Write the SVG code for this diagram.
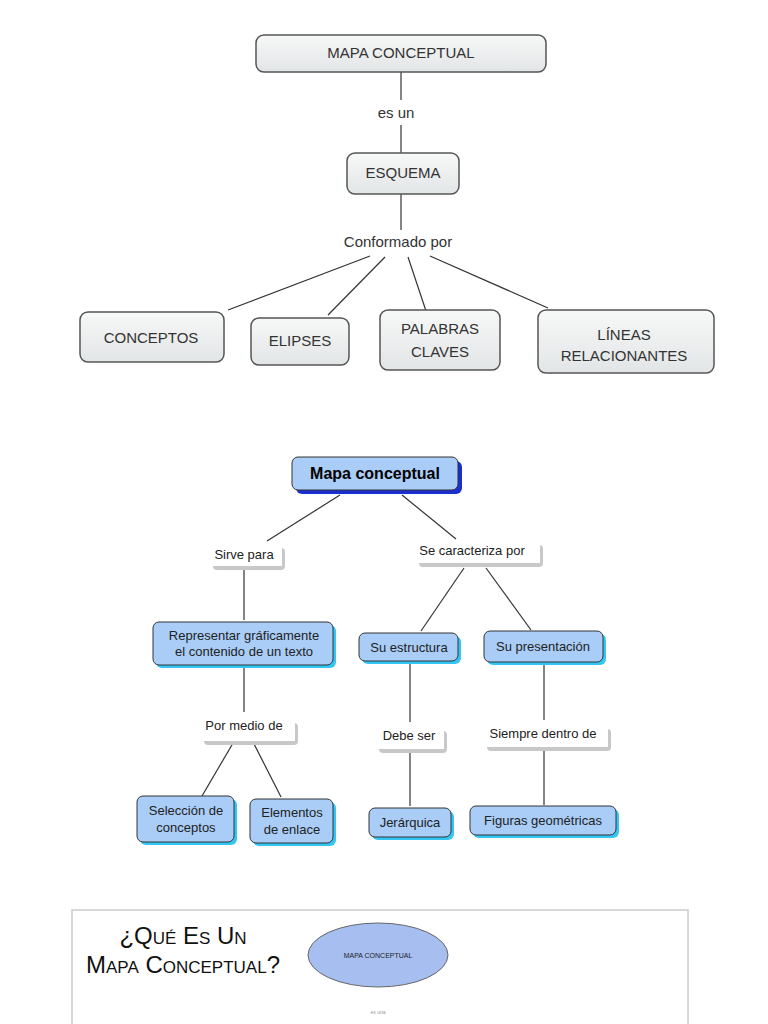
<svg xmlns="http://www.w3.org/2000/svg" width="768" height="1024" viewBox="0 0 768 1024">
<defs>
<linearGradient id="g" x1="0" y1="0" x2="0" y2="1"><stop offset="0" stop-color="#f7f8f8"/><stop offset="1" stop-color="#e2e5e6"/></linearGradient>
</defs>
<style>
text{font-family:"Liberation Sans",Arial,sans-serif;text-anchor:middle;fill:#222}
.g{fill:url(#g);stroke:#555;stroke-width:1.5}
.gt{font-size:15px;fill:#333}
.b{fill:#a9cdf7;stroke:#333;stroke-width:1}
.sh{fill:#1a2fd0}
.ls{fill:#c8c8c8}
.lb{fill:#fff}
.bt{font-size:13px}
.c line{stroke:#333;stroke-width:1.2}
</style>
<rect width="768" height="1024" fill="#fff"/>
<g class="c">
<line x1="401" y1="72" x2="401" y2="100"/><line x1="401" y1="125" x2="401" y2="153"/>
<line x1="401" y1="194" x2="401" y2="230"/>
<line x1="370" y1="256" x2="228" y2="310"/><line x1="385" y1="257" x2="328" y2="315"/>
<line x1="408" y1="257" x2="426" y2="311"/><line x1="430" y1="256" x2="548" y2="308"/>
<line x1="340" y1="495" x2="267" y2="541"/><line x1="402" y1="495" x2="456" y2="539"/>
<line x1="244" y1="570" x2="244" y2="620"/><line x1="244" y1="668" x2="244" y2="712"/>
<line x1="236" y1="738" x2="202" y2="796"/><line x1="251" y1="738" x2="281" y2="797"/>
<line x1="464" y1="568" x2="421" y2="631"/><line x1="486" y1="568" x2="531" y2="630"/>
<line x1="410" y1="664" x2="410" y2="722"/><line x1="410" y1="750" x2="410" y2="806"/>
<line x1="544" y1="665" x2="544" y2="720"/><line x1="544" y1="748" x2="544" y2="805"/>
<line x1="378" y1="987" x2="378" y2="1024" style="stroke:#888;stroke-width:0.8"/>
</g>
<g id="n1"><rect class="g" x="256" y="35" width="290" height="37" rx="8"/><text class="gt" x="401" y="58">MAPA  CONCEPTUAL</text></g>
<g id="l1"><text class="gt" x="396" y="118">es un</text></g>
<g id="n2"><rect class="g" x="347" y="153" width="112" height="41" rx="8"/><text class="gt" x="403" y="178">ESQUEMA</text></g>
<g id="l2"><text class="gt" x="398" y="247">Conformado por</text></g>
<g id="n3"><rect class="g" x="80" y="312" width="144" height="50" rx="8"/><text class="gt" x="151" y="343">CONCEPTOS</text></g>
<g id="n4"><rect class="g" x="251" y="318" width="98" height="47" rx="8"/><text class="gt" x="300" y="346">ELIPSES</text></g>
<g id="n5"><rect class="g" x="380" y="310" width="120" height="60" rx="8"/><text class="gt" x="440" y="334">PALABRAS</text><text class="gt" x="440" y="357">CLAVES</text></g>
<g id="n6"><rect class="g" x="538" y="310" width="176" height="63" rx="8"/><text class="gt" x="624" y="340">LÍNEAS</text><text class="gt" x="624" y="361">RELACIONANTES</text></g>

<g id="m1"><rect class="sh" x="296" y="461" width="166" height="33" rx="6"/><rect class="b" x="292" y="457" width="166" height="33" rx="6"/><text x="375" y="479" style="font-size:16px;font-weight:bold;fill:#000">Mapa conceptual</text></g>
<g id="m2"><rect class="ls" x="213" y="548" width="72" height="22" rx="4"/><rect class="lb" x="208" y="544" width="74" height="22"/><text class="bt" x="244" y="559">Sirve para</text></g>
<g id="m3"><rect class="ls" x="419" y="545" width="124" height="22" rx="4"/><rect class="lb" x="414" y="541" width="126" height="22"/><text class="bt" x="472" y="555">Se caracteriza por</text></g>
<g id="m4"><rect class="sh" x="156" y="625" width="180" height="43" rx="6" style="fill:#33c6f5"/><rect class="b" x="153" y="622" width="180" height="43" rx="6"/><text class="bt" x="244" y="640">Representar gráficamente</text><text class="bt" x="244" y="656">el contenido de un texto</text></g>
<g id="m5"><rect class="ls" x="204" y="723" width="94" height="22" rx="4"/><rect class="lb" x="199" y="719" width="96" height="22"/><text class="bt" x="244" y="730">Por medio de</text></g>
<g id="m6"><rect class="sh" x="140" y="799" width="97" height="46" rx="6" style="fill:#33c6f5"/><rect class="b" x="137" y="796" width="97" height="46" rx="6"/><text class="bt" x="186" y="815">Selección de</text><text class="bt" x="186" y="832">conceptos</text></g>
<g id="m7"><rect class="sh" x="253" y="802" width="83" height="44" rx="6" style="fill:#33c6f5"/><rect class="b" x="250" y="799" width="83" height="44" rx="6"/><text class="bt" x="292" y="817">Elementos</text><text class="bt" x="292" y="834">de enlace</text></g>
<g id="m8"><rect class="sh" x="362" y="636" width="99" height="28" rx="6" style="fill:#33c6f5"/><rect class="b" x="359" y="633" width="99" height="28" rx="6"/><text class="bt" x="409" y="652">Su estructura</text></g>
<g id="m9"><rect class="sh" x="487" y="634" width="119" height="31" rx="6" style="fill:#33c6f5"/><rect class="b" x="484" y="631" width="119" height="31" rx="6"/><text class="bt" x="543" y="651">Su presentación</text></g>
<g id="m10"><rect class="ls" x="379" y="731" width="68" height="22" rx="4"/><rect class="lb" x="374" y="727" width="70" height="22"/><text class="bt" x="409" y="740">Debe ser</text></g>
<g id="m11"><rect class="ls" x="487" y="729" width="124" height="22" rx="4"/><rect class="lb" x="482" y="725" width="126" height="22"/><text class="bt" x="543" y="738">Siempre dentro de</text></g>
<g id="m12"><rect class="sh" x="372" y="811" width="82" height="29" rx="6" style="fill:#33c6f5"/><rect class="b" x="369" y="808" width="82" height="29" rx="6"/><text class="bt" x="410" y="827">Jerárquica</text></g>
<g id="m13"><rect class="sh" x="473" y="809" width="146" height="29" rx="6" style="fill:#33c6f5"/><rect class="b" x="470" y="806" width="146" height="29" rx="6"/><text class="bt" x="543" y="825">Figuras geométricas</text></g>

<g id="slide">
<rect x="72" y="910" width="616" height="120" fill="#fff" stroke="#ccc" stroke-width="1.5"/>
<text x="183" y="944" style="font-size:24px;font-variant:small-caps;fill:#111">¿Qué Es Un</text>
<text x="183" y="973" style="font-size:24px;font-variant:small-caps;fill:#111">Mapa Conceptual?</text>
</g>
<g id="e1"><ellipse cx="378" cy="955" rx="70" ry="32" fill="#a7bff0" stroke="#666"/><text x="378" y="958" style="font-size:7px">MAPA CONCEPTUAL</text></g>
<g id="e2"><text x="378" y="1014" style="font-size:5px;fill:#999">es una</text></g>
</svg>
